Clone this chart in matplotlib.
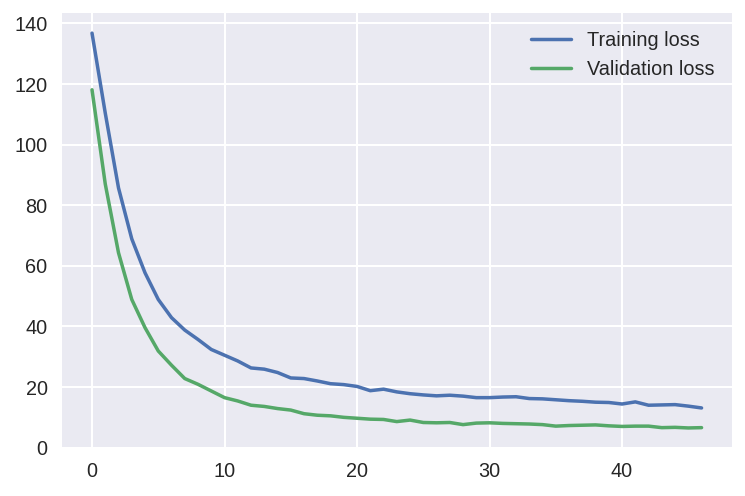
import matplotlib
matplotlib.use("Agg")
import matplotlib.pyplot as plt

plt.style.use('seaborn-v0_8')
plt.rcParams['font.family'] = ['Liberation Sans', 'DejaVu Sans']

# losses per epoch
train_loss = [136.8, 110.4, 85.7, 68.9, 57.7, 48.9, 42.9, 38.8, 35.7, 32.4,
              30.5, 28.6, 26.3, 25.9, 24.8, 23.0, 22.8, 22.0, 21.1, 20.8,
              20.2, 18.8, 19.3, 18.4, 17.8, 17.4, 17.1, 17.3, 17.0, 16.5,
              16.5, 16.7, 16.8, 16.2, 16.1, 15.8, 15.5, 15.3, 15.0, 14.9,
              14.4, 15.1, 14.0, 14.1, 14.2, 13.7, 13.1]
val_loss = [118.1, 87.0, 64.3, 48.9, 39.6, 31.9, 27.2, 22.8, 20.9, 18.7,
            16.5, 15.4, 14.0, 13.6, 12.9, 12.4, 11.2, 10.7, 10.5, 10.0,
            9.7, 9.4, 9.3, 8.6, 9.1, 8.3, 8.2, 8.3, 7.6, 8.1,
            8.2, 8.0, 7.9, 7.8, 7.6, 7.1, 7.3, 7.4, 7.5, 7.2,
            7.0, 7.1, 7.1, 6.6, 6.7, 6.5, 6.6]

dpi = 143.4
fig = plt.figure(figsize=(745 / dpi, 496 / dpi), dpi=dpi)
fig.subplots_adjust(left=0.0826, right=0.9826, bottom=0.0974, top=0.973)

plt.plot(train_loss, label='Training loss')
plt.plot(val_loss, label='Validation loss')
plt.legend(loc='upper right')

plt.savefig('out.png', dpi=dpi)
